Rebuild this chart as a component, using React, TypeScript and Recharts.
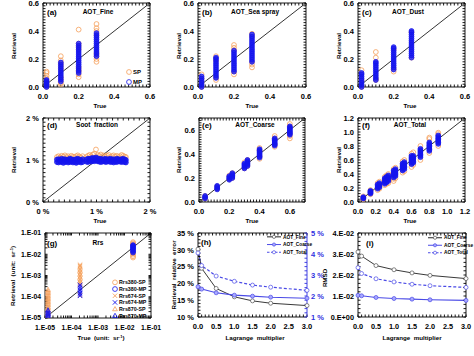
import React from 'react';
import { ScatterChart, Scatter, LineChart, Line, XAxis, YAxis, ReferenceLine, Legend } from 'recharts';

const FONT = '"Liberation Sans", Arial, sans-serif';
const ORANGE = '#f5a05a';
const BLUE = '#1414ee';
const LBLUE = '#4a4ae6';

// (a)-(c): true AOT columns and retrieved values per column
const aotTrue = [0.02, 0.1, 0.2, 0.3];
const fineSP = [
  [0.0, 0.02, 0.04, 0.06, 0.08, 0.1, 0.11],
  [0.02, 0.03, 0.05, 0.07, 0.13, 0.15, 0.17, 0.19, 0.22],
  [0.07, 0.09, 0.11, 0.12, 0.14, 0.27, 0.29, 0.31, 0.41],
  [0.18, 0.2, 0.22, 0.24, 0.37, 0.4, 0.42, 0.45],
];
const fineMP = [
  [0.0, 0.01, 0.02, 0.03, 0.04, 0.05],
  [0.04, 0.055, 0.07, 0.085, 0.1, 0.115, 0.13, 0.145, 0.16, 0.175],
  [0.1, 0.115, 0.13, 0.145, 0.16, 0.175, 0.19, 0.205, 0.22, 0.235, 0.25, 0.265, 0.28, 0.295, 0.31],
  [0.22, 0.235, 0.25, 0.265, 0.28, 0.295, 0.31, 0.325, 0.34, 0.355, 0.37, 0.385],
];
const seaSP = [
  [0.0, 0.03, 0.06, 0.09],
  [0.05, 0.07, 0.19, 0.22],
  [0.09, 0.11, 0.26, 0.28, 0.3],
  [0.14, 0.16, 0.18, 0.36, 0.38],
];
const seaMP = [
  [0.0, 0.015, 0.03, 0.045, 0.06, 0.075],
  [0.065, 0.08, 0.095, 0.11, 0.125, 0.14, 0.155, 0.17, 0.185, 0.2, 0.21],
  [0.11, 0.125, 0.14, 0.155, 0.17, 0.185, 0.2, 0.215, 0.23, 0.245, 0.26],
  [0.18, 0.195, 0.21, 0.225, 0.24, 0.255, 0.27, 0.285, 0.3, 0.315, 0.33, 0.345, 0.36, 0.375],
];
const dustSP = [
  [0.0, 0.05, 0.12],
  [0.05, 0.06, 0.21, 0.25],
  [0.11, 0.13, 0.27],
  [0.21, 0.39],
];
const dustMP = [
  [0.0, 0.015, 0.03, 0.045, 0.06, 0.075, 0.09, 0.1],
  [0.05, 0.065, 0.08, 0.095, 0.11, 0.125, 0.14, 0.155, 0.17, 0.18],
  [0.125, 0.14, 0.155, 0.17, 0.185, 0.2, 0.215, 0.23, 0.245, 0.26, 0.275, 0.285],
  [0.21, 0.225, 0.24, 0.255, 0.27, 0.285, 0.3, 0.315, 0.33, 0.345, 0.36, 0.375, 0.39, 0.4],
];

// (d) soot fraction, in %
const sootTrue = [0.26, 0.29, 0.32, 0.35, 0.38, 0.41, 0.44, 0.47, 0.5, 0.53, 0.56, 0.59, 0.62, 0.65, 0.68, 0.71, 0.74,
  0.81, 0.84, 0.87, 0.9, 0.93, 0.96, 0.99, 1.02, 1.05, 1.08, 1.11, 1.14, 1.17, 1.2, 1.23, 1.26, 1.29, 1.32, 1.35, 1.38,
  1.41, 1.44, 1.47, 1.5, 1.53, 1.55];
const sootSP = [1.07, 1.09, 1.06, 1.1, 1.08, 1.11, 1.07, 1.09, 1.06, 1.1, 1.08, 1.07, 1.09, 1.11, 1.08, 1.06, 1.09,
  1.07, 1.1, 1.12, 1.09, 1.13, 1.15, 1.25, 1.12, 1.1, 1.13, 1.09, 1.11, 1.08, 1.1, 1.12, 1.07, 1.09, 1.11, 1.08, 1.1,
  1.07, 1.09, 1.12, 1.1, 1.08, 1.07];
const sootMPHigh = [1.01, 1.02, 1.0, 1.03, 1.01, 1.02, 1.0, 1.01, 1.03, 1.02, 1.0, 1.01, 1.02, 1.03, 1.01, 1.0, 1.02,
  1.01, 1.03, 1.02, 1.04, 1.05, 1.03, 1.06, 1.04, 1.02, 1.03, 1.01, 1.02, 1.03, 1.01, 1.02, 1.03, 1.01, 1.02, 1.0, 1.03,
  1.02, 1.01, 1.02, 1.03, 1.01, 1.0];
const sootMPLow = [0.95, 0.94, 0.96, 0.95, 0.93, 0.95, 0.96, 0.94, 0.95, 0.96, 0.94, 0.95, 0.93, 0.95, 0.96, 0.94, 0.95,
  0.96, 0.95, 0.97, 0.96, 0.98, 0.97, 0.99, 0.97, 0.96, 0.95, 0.96, 0.97, 0.95, 0.96, 0.97, 0.95, 0.96, 0.94, 0.96, 0.95,
  0.97, 0.96, 0.95, 0.96, 0.95, 0.94];

// (e) coarse AOT
const coarseTrue = [0.04, 0.12, 0.2, 0.22, 0.3, 0.32, 0.4, 0.5, 0.6];
const coarseSP = [
  [0.03, 0.05], [0.11, 0.13], [0.19, 0.22], [0.2, 0.24], [0.28, 0.33], [0.3, 0.35],
  [0.36, 0.38, 0.43, 0.45], [0.46, 0.48, 0.53, 0.55], [0.53, 0.55, 0.57, 0.63, 0.65],
];
const coarseMP = [
  [0.03, 0.04, 0.05],
  [0.105, 0.115, 0.125, 0.135],
  [0.185, 0.195, 0.205, 0.215],
  [0.2, 0.21, 0.22, 0.23, 0.24],
  [0.28, 0.29, 0.3, 0.31, 0.32],
  [0.3, 0.31, 0.32, 0.33, 0.34, 0.35],
  [0.37, 0.38, 0.39, 0.4, 0.41, 0.42, 0.43, 0.44],
  [0.47, 0.48, 0.49, 0.5, 0.51, 0.52, 0.53],
  [0.56, 0.57, 0.58, 0.59, 0.6, 0.61, 0.62, 0.63],
];

// (f) total AOT
const totalTrue = [0.06, 0.14, 0.22, 0.24, 0.3, 0.32, 0.34, 0.4, 0.42, 0.5, 0.52, 0.6, 0.62, 0.7, 0.8, 0.9];
const totalSP = [
  [0.04, 0.08], [0.11, 0.17], [0.17, 0.27], [0.19, 0.29], [0.24, 0.36], [0.26, 0.38], [0.27, 0.4],
  [0.3, 0.33, 0.47], [0.34, 0.49], [0.42, 0.58], [0.44, 0.6], [0.5, 0.69], [0.53, 0.71], [0.6, 0.8],
  [0.7, 0.9, 0.92], [0.8, 0.97, 0.99],
];
const totalMP = [
  [0.05, 0.06, 0.07],
  [0.12, 0.13, 0.14, 0.15, 0.16],
  [0.19, 0.21, 0.23, 0.25],
  [0.21, 0.23, 0.25, 0.27],
  [0.26, 0.28, 0.3, 0.32, 0.34],
  [0.28, 0.3, 0.32, 0.34, 0.36],
  [0.3, 0.32, 0.34, 0.36, 0.38],
  [0.35, 0.37, 0.39, 0.41, 0.43, 0.45],
  [0.37, 0.39, 0.41, 0.43, 0.45, 0.47],
  [0.45, 0.47, 0.49, 0.51, 0.53, 0.55],
  [0.47, 0.49, 0.51, 0.53, 0.55, 0.57],
  [0.54, 0.56, 0.58, 0.6, 0.62, 0.64, 0.66],
  [0.56, 0.58, 0.6, 0.62, 0.64, 0.66],
  [0.64, 0.66, 0.68, 0.7, 0.72, 0.74, 0.76],
  [0.73, 0.75, 0.77, 0.79, 0.81, 0.83, 0.85],
  [0.83, 0.85, 0.87, 0.89, 0.91, 0.93, 0.95],
];

// (g) Rrs, sr^-1
const rrs380True = 0.021;
const rrs674True = 2.1e-4;
const rrs870True = 1.3e-5;
const rrs380SP = [0.007, 0.008, 0.0095, 0.011, 0.013, 0.027, 0.03, 0.033, 0.037];
const rrs380MP = [0.012, 0.014, 0.016, 0.018, 0.02, 0.022, 0.025, 0.027];
const rrs674SP = [1.2e-4, 3.8e-4, 4.4e-4, 5.1e-4, 6e-4, 7e-4, 8.2e-4, 9.5e-4, 1.1e-3, 1.3e-3, 1.5e-3, 1.75e-3, 2e-3,
  2.4e-3, 2.8e-3, 3.2e-3];
const rrs674MP = [1.1e-4, 1.3e-4, 1.5e-4, 1.8e-4, 2.1e-4, 2.5e-4, 3e-4, 3.6e-4];
const rrs870SP = [1.2e-5, 1.5e-5, 1.9e-5, 2.3e-5, 2.8e-5, 3.3e-5, 4e-5, 4.7e-5, 5.5e-5, 6.5e-5, 7.7e-5, 9e-5, 1.05e-4,
  1.25e-4, 1.5e-4, 1.75e-4, 2.1e-4];
const rrs870MP = [1e-5, 1.15e-5, 1.3e-5, 1.5e-5, 1.7e-5, 2e-5, 2.3e-5];

// (h)/(i) Lagrange multiplier sweep
const lagrange = [0, 0.1, 0.5, 1, 1.5, 2, 3];
const errFine = [30.2, 24.5, 18.5, 16.0, 14.8, 14.1, 13.4];
const errCoarse = [19.0, 18.3, 17.2, 16.5, 16.2, 15.9, 15.6];
const errTotal = [4.05, 3.45, 2.95, 2.7, 2.52, 2.42, 2.27];
const rmsdFine = [0.031, 0.029, 0.0245, 0.0225, 0.021, 0.0198, 0.0183];
const rmsdCoarse = [0.0103, 0.0101, 0.0093, 0.0088, 0.0085, 0.0082, 0.0079];
const rmsdTotal = [0.0235, 0.0207, 0.0182, 0.0167, 0.0156, 0.0149, 0.0141];

// tick labels
const aotTicks = [0, 0.2, 0.4, 0.6];
const totalTicks = [0, 0.2, 0.4, 0.6, 0.8, 1.0, 1.2];
const sootTicks = [0, 1, 2];
const rrsTicks = [1e-5, 1e-4, 1e-3, 1e-2, 1e-1];
const lagTicks = [0, 0.5, 1, 1.5, 2, 2.5, 3];
const errTicks = [10, 15, 20, 25, 30, 35];
const errRightTicks = [1, 2, 3, 4, 5];
const rmsdTicks = [0, 0.01, 0.02, 0.03, 0.04];

// helpers
const columns = (xs: number[], ys: number[][]) => xs.flatMap((x, i) => ys[i].map((y) => ({ x, y })));
const pairs = (xs: number[], ys: number[]) => xs.map((x, i) => ({ x, y: ys[i] }));
const stack = (x: number, ys: number[]) => ys.map((y) => ({ x, y }));
const steps = (a: number, b: number, s: number) => {
  const out: number[] = [];
  for (let v = a; v <= b + s / 2; v += s) out.push(+v.toFixed(6));
  return out;
};
const logSteps = (lo: number, hi: number) => {
  const out: number[] = [];
  for (let e = lo; e < hi; e++) for (let m = 1; m < 10; m++) out.push(+(m * Math.pow(10, e)).toPrecision(6));
  out.push(Math.pow(10, hi));
  return out;
};
const near = (v: number, list: number[]) => list.some((m) => Math.abs(m - v) <= 1e-9 + Math.abs(m) * 1e-6);
const pct = (v: number) => `${v} %`;
const f1 = (v: number) => v.toFixed(1);
const sci = (v: number) => {
  const e = Math.round(Math.log10(v));
  return `1.E-${String(-e).padStart(2, '0')}`;
};
const sci2 = (v: number) => (v === 0 ? '0.E+00' : `${Math.round(v * 100)}.E-02`);

// markers
const ring = (color: string, fill = 'none', fo = 1) => (p: any) => (
  <circle cx={p.cx} cy={p.cy} r={2.4} fill={fill} fillOpacity={fo} stroke={color} strokeWidth={0.8} />
);
const cross = (color: string) => (p: any) => (
  <path d={`M${p.cx - 2.2},${p.cy - 2.2}L${p.cx + 2.2},${p.cy + 2.2}M${p.cx - 2.2},${p.cy + 2.2}L${p.cx + 2.2},${p.cy - 2.2}`}
    stroke={color} strokeWidth={0.9} fill="none" />
);
const tri = (color: string) => (p: any) => (
  <path d={`M${p.cx},${p.cy - 2.6}L${p.cx + 2.4},${p.cy + 1.6}L${p.cx - 2.4},${p.cy + 1.6}Z`}
    fill="none" stroke={color} strokeWidth={0.8} />
);
const spMark = ring(ORANGE);
const mpMark = ring(BLUE, BLUE, 0.75);

const TK = 2.5;
const AX = { stroke: '#000', strokeWidth: 0.9 };

function Empty() {
  return <g />;
}

function BottomTick(props: any) {
  const { x, y, payload, major, fmt, fs } = props;
  if (!near(payload.value, major)) return <g />;
  return (
    <text x={x} y={y + 12.4} textAnchor="middle" fontSize={fs} fontWeight="bold" fontFamily={FONT} fill="#000">
      {fmt(payload.value)}
    </text>
  );
}

function SideTick(props: any) {
  const { x, y, payload, major, fmt, fs, right, color } = props;
  if (!near(payload.value, major)) return <g />;
  return (
    <text x={right ? x + 4 : x - 4} y={y + fs * 0.36} textAnchor={right ? 'start' : 'end'} fontSize={fs}
      fontWeight="bold" fontFamily={FONT} fill={color || '#000'}>
      {fmt(payload.value)}
    </text>
  );
}

type FrameCfg = {
  xDomain: [number, number]; yDomain: [number, number];
  xTicks: number[]; yTicks: number[]; xMajor: number[]; yMajor: number[];
  fx: (v: number) => string; fy: (v: number) => string;
  log?: boolean; fs: number; yw: number; xh: number; overflow?: boolean; yKey?: string;
  right?: { domain: [number, number]; ticks: number[]; major: number[]; fmt: (v: number) => string; color: string; width: number };
};

function frame(c: FrameCfg) {
  const sc = c.log ? 'log' : 'linear';
  const ov = c.overflow ?? false;
  const items = [
    <XAxis key="xb" type="number" dataKey="x" scale={sc} domain={c.xDomain} ticks={c.xTicks} interval={0}
      allowDataOverflow={ov} height={c.xh} tickSize={-TK} tickMargin={TK} axisLine={AX} tickLine={AX}
      tick={(t: any) => <BottomTick {...t} major={c.xMajor} fmt={c.fx} fs={c.fs} />} />,
    <XAxis key="xt" xAxisId="top" orientation="top" type="number" dataKey="x" scale={sc} domain={c.xDomain}
      ticks={c.xTicks} interval={0} allowDataOverflow height={1} tickSize={-TK} axisLine={AX} tickLine={AX} tick={Empty} />,
    <YAxis key="yl" type="number" dataKey={c.yKey} scale={sc} domain={c.yDomain} ticks={c.yTicks} interval={0}
      allowDataOverflow={ov} width={c.yw} tickSize={-TK} tickMargin={TK} axisLine={AX} tickLine={AX}
      tick={(t: any) => <SideTick {...t} major={c.yMajor} fmt={c.fy} fs={c.fs} />} />,
  ];
  if (c.right) {
    const r = c.right;
    const rs = { stroke: r.color, strokeWidth: 0.9 };
    items.push(
      <YAxis key="yr" yAxisId="r" orientation="right" type="number" domain={r.domain} ticks={r.ticks} interval={0}
        width={r.width} tickSize={-TK} tickMargin={TK} axisLine={rs} tickLine={rs}
        tick={(t: any) => <SideTick {...t} major={r.major} fmt={r.fmt} fs={c.fs} right color={r.color} />} />,
    );
  } else {
    items.push(
      <YAxis key="yr" yAxisId="r" orientation="right" type="number" scale={sc} domain={c.yDomain} ticks={c.yTicks}
        interval={0} allowDataOverflow width={1} tickSize={-TK} axisLine={AX} tickLine={AX} tick={Empty} />,
    );
  }
  return items;
}

type KeyItem = { label: string; mark: (x: number, y: number) => React.ReactNode };

function MarkKey({ items, gap, fs, tx, w }: { items: KeyItem[]; gap: number; fs: number; tx: number; w: number }) {
  return (
    <svg width={w} height={items.length * gap} style={{ display: 'block', overflow: 'visible' }}>
      {items.map((it, i) => (
        <g key={it.label}>
          {it.mark(4, gap * i + gap / 2)}
          <text x={tx} y={gap * i + gap / 2 + fs * 0.36} fontSize={fs} fontWeight="bold" fontFamily={FONT} fill="#000">
            {it.label}
          </text>
        </g>
      ))}
    </svg>
  );
}

const lineMark = (color: string, dash: string, dotFill: string, dotStroke: string) => (x: number, y: number) => (
  <g>
    <line x1={x - 4} y1={y} x2={x + 10} y2={y} stroke={color} strokeWidth={1} strokeDasharray={dash} />
    <circle cx={x + 3} cy={y} r={1.6} fill={dotFill} stroke={dotStroke} strokeWidth={0.7} />
  </g>
);

const lineKey: KeyItem[] = [
  { label: 'AOT_Fine', mark: lineMark('#222', '0', '#fff', '#555') },
  { label: 'AOT_Coarse', mark: lineMark(LBLUE, '0', '#a8a8ff', LBLUE) },
  { label: 'AOT_Total', mark: lineMark(LBLUE, '2.5 1.5', '#fff', LBLUE) },
];

const YW = 40;
const XH = 26;
const PAD = 8;

type PanelProps = {
  left: number; top: number; pw: number; ph: number; rp?: number;
  cfg: Omit<FrameCfg, 'yw' | 'xh'>;
  children?: React.ReactNode;
};

function ScatterPanel({ left, top, pw, ph, rp = PAD, cfg, children }: PanelProps) {
  return (
    <div style={{ position: 'absolute', left: left - YW, top: top - PAD }}>
      <ScatterChart width={YW + pw + rp} height={PAD + ph + XH} margin={{ top: PAD - 1, right: rp - 1, bottom: 0, left: 0 }}>
        {frame({ ...cfg, yw: YW, xh: XH, yKey: 'y' })}
        {children}
      </ScatterChart>
    </div>
  );
}

const diag = (a: number, b: number) => [{ x: a, y: a }, { x: b, y: b }];

const aCfg = {
  xDomain: [0, 0.6] as [number, number], yDomain: [0, 0.6] as [number, number],
  xTicks: steps(0, 0.6, 0.02), yTicks: steps(0, 0.6, 0.02), xMajor: aotTicks, yMajor: aotTicks,
  fx: f1, fy: f1, fs: 7.5,
};

const errRows = lagrange.map((x, i) => ({ x, fine: errFine[i], coarse: errCoarse[i], total: errTotal[i] }));
const rmsdRows = lagrange.map((x, i) => ({ x, fine: rmsdFine[i], coarse: rmsdCoarse[i], total: rmsdTotal[i] }));

type T = { x: number; y: number; s: React.ReactNode; fs: number; a?: 'start' | 'middle' | 'end'; rot?: boolean; c?: string };

const sup = (base: string) => (
  <>
    {base}
    <tspan dy={-2.2} fontSize={4}>-1</tspan>
    <tspan dy={2.2}>)</tspan>
  </>
);

const R1 = 3;
const labels: T[] = [
  { x: 47, y: R1 + 12, s: '(a)', fs: 8, a: 'start' },
  { x: 98, y: R1 + 10.5, s: 'AOT_Fine', fs: 6.5 },
  { x: 202, y: R1 + 12, s: '(b)', fs: 8, a: 'start' },
  { x: 255, y: R1 + 10.5, s: 'AOT_Sea spray', fs: 6.5 },
  { x: 362, y: R1 + 12, s: '(c)', fs: 8, a: 'start' },
  { x: 408, y: R1 + 10.5, s: 'AOT_Dust', fs: 6.5 },
  { x: 47, y: 128, s: '(d)', fs: 8, a: 'start' },
  { x: 97, y: 126.5, s: 'Soot  fraction', fs: 6.5 },
  { x: 202, y: 128, s: '(e)', fs: 8, a: 'start' },
  { x: 255, y: 126.5, s: 'AOT_Coarse', fs: 6.5 },
  { x: 362, y: 128, s: '(f)', fs: 8, a: 'start' },
  { x: 410, y: 126.5, s: 'AOT_Total', fs: 6.5 },
  { x: 47, y: 245.5, s: '(g)', fs: 8, a: 'start' },
  { x: 98, y: 245, s: 'Rrs', fs: 6.5 },
  { x: 201, y: 244.5, s: '(h)', fs: 8, a: 'start' },
  { x: 366, y: 246, s: '(i)', fs: 8, a: 'start' },
  { x: 14, y: 46, s: 'Retrieval', fs: 6.2, rot: true },
  { x: 179, y: 46, s: 'Retrieval', fs: 6.2, rot: true },
  { x: 339, y: 46, s: 'Retrieval', fs: 6.2, rot: true },
  { x: 14, y: 160, s: 'Retrieval', fs: 6.2, rot: true },
  { x: 179, y: 160, s: 'Retrieval', fs: 6.2, rot: true },
  { x: 339, y: 160, s: 'Retrieval', fs: 6.2, rot: true },
  { x: 13, y: 276, s: sup('Retrieval  (unit:  sr'), fs: 6.2, rot: true },
  { x: 174, y: 275, s: 'Retrieval  relative  error', fs: 6.2, rot: true },
  { x: 325, y: 278, s: 'RMSD', fs: 6.2, rot: true },
  { x: 100, y: 106, s: 'True', fs: 6.2 },
  { x: 252, y: 106, s: 'True', fs: 6.2 },
  { x: 410, y: 106, s: 'True', fs: 6.2 },
  { x: 100, y: 221, s: 'True', fs: 6.2 },
  { x: 252, y: 221, s: 'True', fs: 6.2 },
  { x: 410, y: 221, s: 'True', fs: 6.2 },
  { x: 101, y: 338, s: sup('True  (unit:  sr'), fs: 6.2 },
  { x: 255, y: 338, s: 'Lagrange  multiplier', fs: 6.2 },
  { x: 412, y: 338, s: 'Lagrange  multiplier', fs: 6.2 },
];

function Overlay() {
  return (
    <svg width={474} height={356} style={{ position: 'absolute', left: 0, top: 0, pointerEvents: 'none' }}>
      {labels.map((t, i) => (
        <text key={i} x={t.x} y={t.y} dy={t.a === 'start' || (!t.rot && t.fs >= 6.5) ? 0 : t.fs * 0.36}
          textAnchor={t.a || 'middle'} fontSize={t.fs} fontWeight="bold" fontFamily={FONT} fill={t.c || '#000'}
          transform={t.rot ? `rotate(-90 ${t.x} ${t.y})` : undefined} style={{ whiteSpace: 'pre' }}>
          {t.s}
        </text>
      ))}
    </svg>
  );
}

const sc = (data: { x: number; y: number }[], shape: any, name: string) => (
  <Scatter key={name} name={name} data={data} shape={shape} isAnimationActive={false} />
);

export default function App() {
  return (
    <div style={{ position: 'absolute', left: 0, top: 0, width: 474, height: 356, background: '#fff', overflow: 'hidden' }}>
      {/* (a) */}
      <ScatterPanel left={43} top={R1} pw={107} ph={84} cfg={aCfg}>
        {sc(columns(aotTrue, fineSP), spMark, 'SP')}
        {sc(columns(aotTrue, fineMP), mpMark, 'MP')}
        <ReferenceLine segment={diag(0, 0.6)} stroke="#000" strokeWidth={0.8} ifOverflow="visible" />
        <Legend layout="vertical" align="center" verticalAlign="middle"
          wrapperStyle={{ left: 122, top: 72, width: 'auto', height: 'auto' }}
          content={() => <MarkKey items={[{ label: 'SP', mark: (x, y) => spMark({ cx: x, cy: y }) }, { label: 'MP', mark: (x, y) => ring(BLUE)({ cx: x, cy: y }) }]} gap={10} fs={6} tx={8} w={24} />} />
      </ScatterPanel>
      {/* (b) */}
      <ScatterPanel left={198} top={R1} pw={108} ph={84} cfg={aCfg}>
        {sc(columns(aotTrue, seaSP), spMark, 'SP')}
        {sc(columns(aotTrue, seaMP), mpMark, 'MP')}
        <ReferenceLine segment={diag(0, 0.6)} stroke="#000" strokeWidth={0.8} ifOverflow="visible" />
      </ScatterPanel>
      {/* (c) */}
      <ScatterPanel left={358} top={R1} pw={107} ph={84} cfg={aCfg}>
        {sc(columns(aotTrue, dustSP), spMark, 'SP')}
        {sc(columns(aotTrue, dustMP), mpMark, 'MP')}
        <ReferenceLine segment={diag(0, 0.6)} stroke="#000" strokeWidth={0.8} ifOverflow="visible" />
      </ScatterPanel>
      {/* (d) */}
      <ScatterPanel left={43} top={118} pw={107} ph={84}
        cfg={{ xDomain: [0, 2], yDomain: [0, 2], xTicks: steps(0, 2, 0.1), yTicks: steps(0, 2, 0.1), xMajor: sootTicks, yMajor: sootTicks, fx: pct, fy: pct, fs: 7.5 }}>
        {sc(pairs(sootTrue, sootSP), spMark, 'SP')}
        {sc(pairs(sootTrue, sootMPHigh), mpMark, 'MP')}
        {sc(pairs(sootTrue, sootMPLow), mpMark, 'MP2')}
        <ReferenceLine segment={diag(0, 2)} stroke="#000" strokeWidth={0.8} ifOverflow="visible" />
      </ScatterPanel>
      {/* (e) */}
      <ScatterPanel left={199} top={118} pw={106} ph={84}
        cfg={{ xDomain: [0, 0.7], yDomain: [0, 0.7], xTicks: steps(0, 0.7, 0.02), yTicks: steps(0, 0.7, 0.02), xMajor: aotTicks, yMajor: aotTicks, fx: f1, fy: f1, fs: 7.5 }}>
        {sc(columns(coarseTrue, coarseSP), spMark, 'SP')}
        {sc(columns(coarseTrue, coarseMP), mpMark, 'MP')}
        <ReferenceLine segment={diag(0, 0.7)} stroke="#000" strokeWidth={0.8} ifOverflow="visible" />
      </ScatterPanel>
      {/* (f) */}
      <ScatterPanel left={358} top={118} pw={107} ph={84}
        cfg={{ xDomain: [0, 1.2], yDomain: [0, 1.2], xTicks: steps(0, 1.2, 0.04), yTicks: steps(0, 1.2, 0.04), xMajor: totalTicks, yMajor: totalTicks, fx: f1, fy: f1, fs: 7.5 }}>
        {sc(columns(totalTrue, totalSP), spMark, 'SP')}
        {sc(columns(totalTrue, totalMP), mpMark, 'MP')}
        <ReferenceLine segment={diag(0, 1.2)} stroke="#000" strokeWidth={0.8} ifOverflow="visible" />
      </ScatterPanel>
      {/* (g) */}
      <ScatterPanel left={45} top={233} pw={106} ph={85} rp={16}
        cfg={{ xDomain: [1e-5, 1e-1], yDomain: [1e-5, 1e-1], xTicks: logSteps(-5, -1), yTicks: logSteps(-5, -1), xMajor: rrsTicks, yMajor: rrsTicks, fx: sci, fy: sci, fs: 6.8, log: true, overflow: true }}>
        {sc(stack(rrs380True, rrs380SP), ring(ORANGE), 'Rrs380-SP')}
        {sc(stack(rrs674True, rrs674SP), cross(ORANGE), 'Rrs674-SP')}
        {sc(stack(rrs870True, rrs870SP), tri(ORANGE), 'Rrs870-SP')}
        {sc(stack(rrs380True, rrs380MP), ring(BLUE, BLUE, 0.75), 'Rrs380-MP')}
        {sc(stack(rrs674True, rrs674MP), cross(BLUE), 'Rrs674-MP')}
        {sc(stack(rrs870True, rrs870MP), tri(BLUE), 'Rrs870-MP')}
        <ReferenceLine segment={diag(1e-5, 1e-1)} stroke="#000" strokeWidth={0.8} ifOverflow="visible" />
        <Legend layout="vertical" align="center" verticalAlign="middle"
          wrapperStyle={{ left: 106, top: 53.7, width: 'auto', height: 'auto' }}
          content={() => (
            <MarkKey gap={6.7} fs={5.3} tx={8} w={40} items={[
              { label: 'Rrs380-SP', mark: (x, y) => ring(ORANGE)({ cx: x, cy: y }) },
              { label: 'Rrs380-MP', mark: (x, y) => ring(BLUE)({ cx: x, cy: y }) },
              { label: 'Rrs674-SP', mark: (x, y) => cross(ORANGE)({ cx: x, cy: y }) },
              { label: 'Rrs674-MP', mark: (x, y) => cross(BLUE)({ cx: x, cy: y }) },
              { label: 'Rrs870-SP', mark: (x, y) => tri(ORANGE)({ cx: x, cy: y }) },
              { label: 'Rrs870-MP', mark: (x, y) => tri(BLUE)({ cx: x, cy: y }) },
            ]} />
          )} />
      </ScatterPanel>
      {/* (h) */}
      <div style={{ position: 'absolute', left: 198 - YW, top: 233 - PAD }}>
        <LineChart width={YW + 109 + 24} height={PAD + 84 + XH} data={errRows} margin={{ top: PAD - 1, right: 4, bottom: 0, left: 0 }}>
          {frame({
            xDomain: [0, 3], yDomain: [10, 35], xTicks: steps(0, 3, 0.1), yTicks: steps(10, 35, 1), xMajor: lagTicks, yMajor: errTicks,
            fx: f1, fy: pct, fs: 7.5, yw: YW, xh: XH,
            right: { domain: [1, 5], ticks: steps(1, 5, 0.2), major: errRightTicks, fmt: pct, color: '#3030e0', width: 20 },
          })}
          <Line dataKey="fine" stroke="#222" strokeWidth={0.9} dot={{ r: 2, fill: '#fff', stroke: '#555', strokeWidth: 0.7 }} isAnimationActive={false} />
          <Line dataKey="coarse" stroke={LBLUE} strokeWidth={1.1} dot={{ r: 2, fill: '#a8a8ff', stroke: LBLUE, strokeWidth: 0.7 }} isAnimationActive={false} />
          <Line dataKey="total" yAxisId="r" stroke={LBLUE} strokeWidth={1.2} strokeDasharray="3 2"
            dot={{ r: 2, fill: '#fff', stroke: LBLUE, strokeWidth: 0.7, strokeDasharray: '0' }} isAnimationActive={false} />
          <Legend layout="vertical" align="center" verticalAlign="middle"
            wrapperStyle={{ left: 109, top: 8.2, width: 'auto', height: 'auto' }}
            content={() => <MarkKey items={lineKey} gap={7.7} fs={4.8} tx={16} w={44} />} />
        </LineChart>
      </div>
      {/* (i) */}
      <div style={{ position: 'absolute', left: 358 - YW, top: 233 - PAD }}>
        <LineChart width={YW + 108 + PAD} height={PAD + 84 + XH} data={rmsdRows} margin={{ top: PAD - 1, right: PAD - 1, bottom: 0, left: 0 }}>
          {frame({
            xDomain: [0, 3], yDomain: [0, 0.04], xTicks: steps(0, 3, 0.1), yTicks: steps(0, 0.04, 0.002), xMajor: lagTicks, yMajor: rmsdTicks,
            fx: f1, fy: sci2, fs: 7.3, yw: YW, xh: XH,
          })}
          <Line dataKey="fine" stroke="#222" strokeWidth={0.9} dot={{ r: 2, fill: '#fff', stroke: '#555', strokeWidth: 0.7 }} isAnimationActive={false} />
          <Line dataKey="coarse" stroke={LBLUE} strokeWidth={1.1} dot={{ r: 2, fill: '#a8a8ff', stroke: LBLUE, strokeWidth: 0.7 }} isAnimationActive={false} />
          <Line dataKey="total" stroke={LBLUE} strokeWidth={1.2} strokeDasharray="3 2"
            dot={{ r: 2, fill: '#fff', stroke: LBLUE, strokeWidth: 0.7, strokeDasharray: '0' }} isAnimationActive={false} />
          <Legend layout="vertical" align="center" verticalAlign="middle"
            wrapperStyle={{ left: 110, top: 9.2, width: 'auto', height: 'auto' }}
            content={() => <MarkKey items={lineKey} gap={7.5} fs={4.8} tx={16} w={44} />} />
        </LineChart>
      </div>
      <Overlay />
    </div>
  );
}
